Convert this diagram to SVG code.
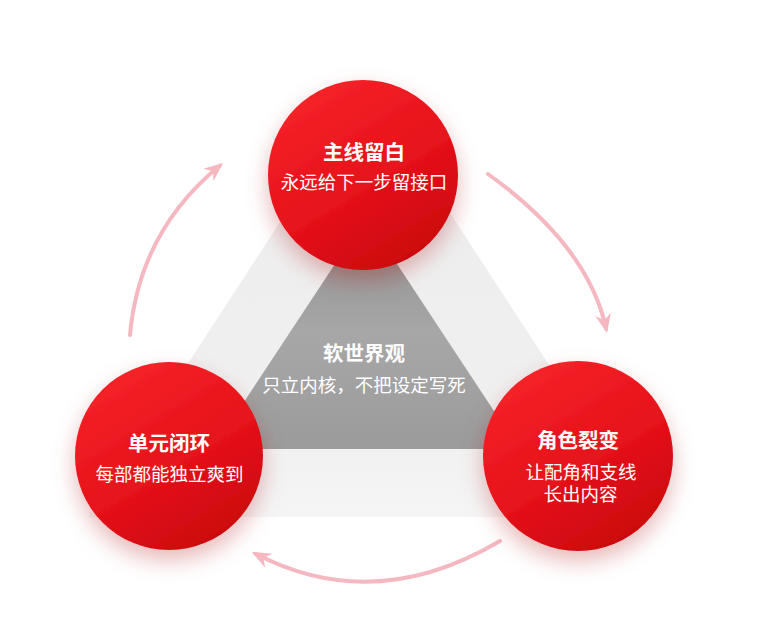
<svg xmlns="http://www.w3.org/2000/svg" width="768" height="636" viewBox="0 0 768 636">
  <defs>
    <linearGradient id="redGrad" x1="0.2" y1="0" x2="0.8" y2="1">
      <stop offset="0" stop-color="#f72429"/>
      <stop offset="0.55" stop-color="#e5121a"/>
      <stop offset="1" stop-color="#c8040b"/>
    </linearGradient>
    <linearGradient id="outerGrad" x1="0" y1="0" x2="0" y2="1">
      <stop offset="0" stop-color="#ececec"/>
      <stop offset="0.8" stop-color="#f0f0f0"/>
      <stop offset="1" stop-color="#f5f5f5"/>
    </linearGradient>
    <linearGradient id="innerGrad" x1="0" y1="0" x2="0" y2="1">
      <stop offset="0" stop-color="#8e8e8e"/>
      <stop offset="0.5" stop-color="#a7a7a7"/>
      <stop offset="1" stop-color="#9b9b9b"/>
    </linearGradient>
    <filter id="shadow" x="-40%" y="-40%" width="180%" height="190%">
      <feDropShadow dx="0" dy="10" stdDeviation="11" flood-color="#a80000" flood-opacity="0.28"/>
    </filter>
    <marker id="arrowHead" markerUnits="userSpaceOnUse" markerWidth="20" markerHeight="18" viewBox="0 0 20 18" refX="15" refY="9" orient="auto">
      <path d="M0,1 L19,9 L0,17 L6,9 Z" fill="#f5b7c0"/>
    </marker>
    <style>
      .title { font-family: "Noto Sans CJK SC", "Noto Sans", sans-serif; font-weight: 700; font-size: 20.5px; fill: #ffffff; text-anchor: middle; }
      .sub { font-family: "Noto Sans CJK SC", "Noto Sans", sans-serif; font-weight: 400; font-size: 18.5px; fill: #ffffff; text-anchor: middle; }
      .arrow { fill: none; stroke: #f5b7c0; stroke-width: 4; stroke-linecap: round; marker-end: url(#arrowHead); }
      .ball { fill: url(#redGrad); filter: url(#shadow); }
    </style>
  </defs>

  <rect x="0" y="0" width="768" height="636" fill="#ffffff"/>

  <g id="background-triangles">
    <polygon points="368,87 88,517 648,517" fill="url(#outerGrad)"/>
    <polygon points="366,217 213,449 519,449" fill="url(#innerGrad)"/>
  </g>

  <g id="node-center">
    <text class="title" x="364" y="361">软世界观</text>
    <text class="sub" x="364" y="392">只立内核，不把设定写死</text>
  </g>

  <g id="connectors">
    <path class="arrow" d="M130,335 Q139.5,231 220,165.5"/>
    <path class="arrow" d="M488,174 Q588.5,246.5 606.2,329"/>
    <path class="arrow" d="M500,541 Q374,615.5 255.5,553.8"/>
  </g>

  <g id="node-top">
    <circle class="ball" cx="363" cy="175" r="95"/>
    <text class="title" x="364" y="159.5">主线留白</text>
    <text class="sub" x="364" y="188.5">永远给下一步留接口</text>
  </g>

  <g id="node-left">
    <circle class="ball" cx="169" cy="456" r="94"/>
    <text class="title" x="169" y="450.5">单元闭环</text>
    <text class="sub" x="169.5" y="481">每部都能独立爽到</text>
  </g>

  <g id="node-right">
    <circle class="ball" cx="578" cy="456" r="95"/>
    <text class="title" x="578" y="448">角色裂变</text>
    <text class="sub"><tspan x="581" y="479">让配角和支线</tspan><tspan x="580.5" y="501">长出内容</tspan></text>
  </g>
</svg>
